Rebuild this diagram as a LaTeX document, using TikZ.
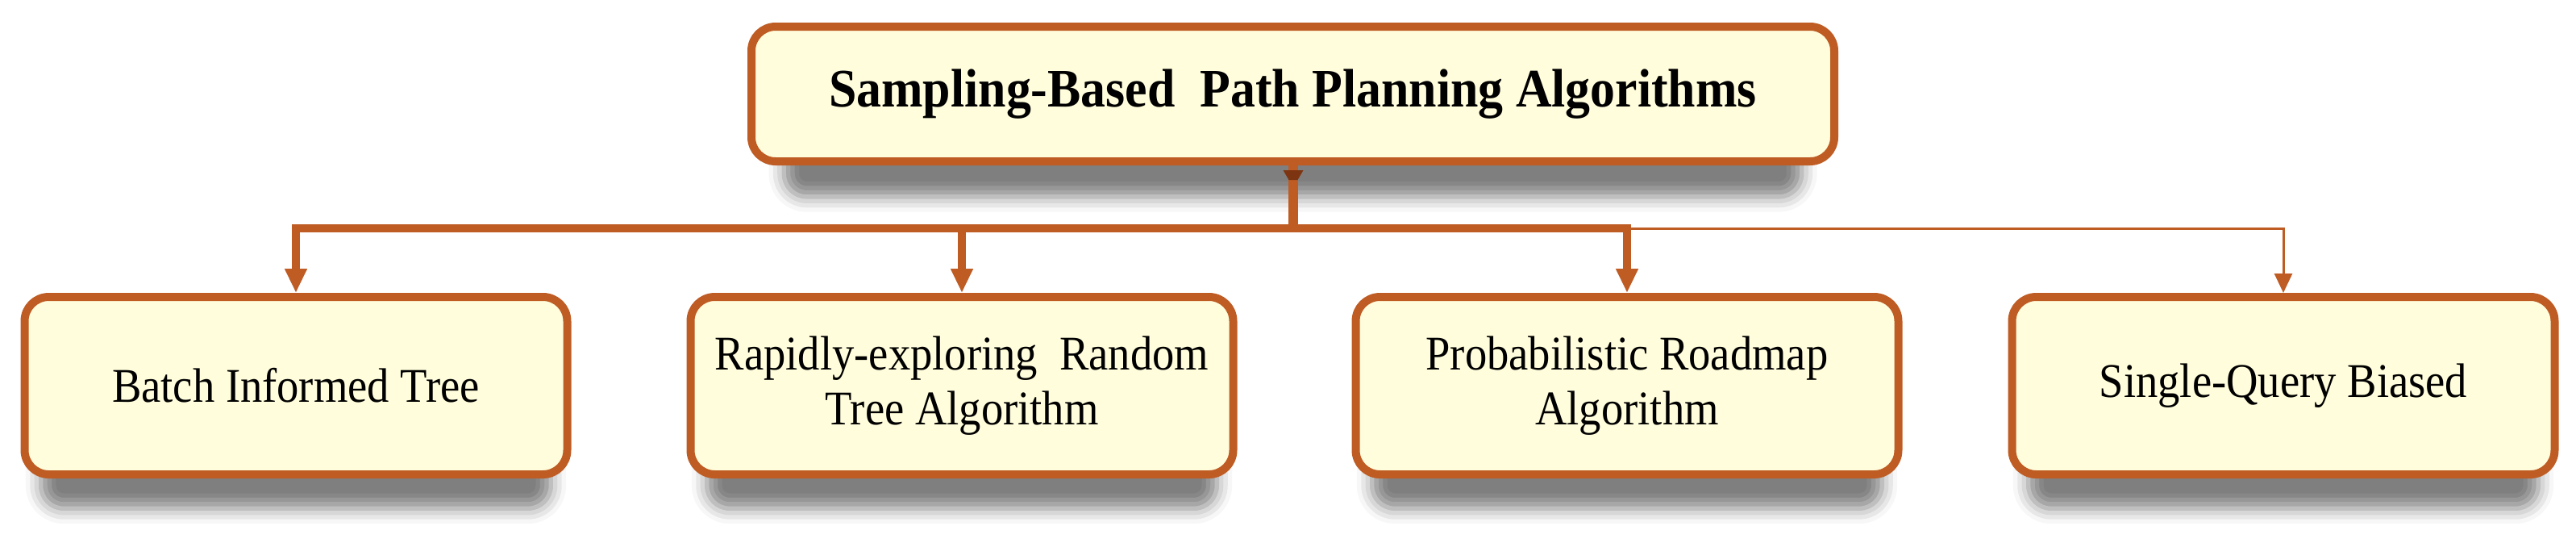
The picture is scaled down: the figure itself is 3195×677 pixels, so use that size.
\documentclass[tikz,border=0pt]{standalone}
\usepackage{fontspec}
\setmainfont[FakeStretch=0.91]{Liberation Serif}
\newfontfamily\titlefont[FakeStretch=0.92]{Liberation Serif}
\usetikzlibrary{arrows.meta,shadows.blur}
\definecolor{brd}{RGB}{190,92,36}
\definecolor{darkbrd}{RGB}{125,52,16}
\definecolor{cream}{RGB}{255,253,220}
\begin{document}
\begin{tikzpicture}[x=0.25pt,y=-0.25pt,
  box/.style={draw=brd, line width=2.5pt, fill=cream, rounded corners=7.5pt,
    align=center, inner sep=0pt,
    blur shadow={shadow xshift=0pt, shadow yshift=-13pt, shadow scale=0.94,
      shadow blur radius=5pt, shadow opacity=50}},
  childbox/.style={box, minimum width=168.25pt, minimum height=55pt,
    font=\fontsize{15}{17}\selectfont},
  conn/.style={draw=brd, line width=2.5pt, -{Triangle[length=7.5pt,width=6.5pt]}},
  thinconn/.style={draw=brd, line width=0.75pt, -{Triangle[length=6pt,width=5.5pt]}}]
\useasboundingbox (0,0) rectangle (3195,677);
\node[box, minimum width=335.75pt, minimum height=41.75pt,
  font=\titlefont\bfseries\fontsize{16.8}{19}\selectfont] (top) at (1603.5,116.5)
  {Sampling-Based\ \ Path Planning Algorithms};
\node[childbox] (b1) at (367,478) {Batch Informed Tree};
\node[childbox] (b2) at (1193,478) {Rapidly-exploring\ \ Random\\Tree Algorithm};
\node[childbox] (b3) at (2018,478) {Probabilistic Roadmap\\Algorithm};
\node[childbox] (b4) at (2832,478) {Single-Query Biased};
\coordinate (j) at (1603.5,283);
\draw[thinconn] (j) -| (b4.north);
\draw[conn] (j) -| (b1.north);
\draw[conn] (j) -| (b2.north);
\draw[conn] (j) -| (b3.north);
\draw[brd, line width=3pt] (top.south) -- (j);
\fill[darkbrd] ([shift={(-12,6)}]top.south) -- ([shift={(13,6)}]top.south)
  -- ([shift={(6,18)}]top.south) -- ([shift={(-5,18)}]top.south) -- cycle;
\end{tikzpicture}
\end{document}
